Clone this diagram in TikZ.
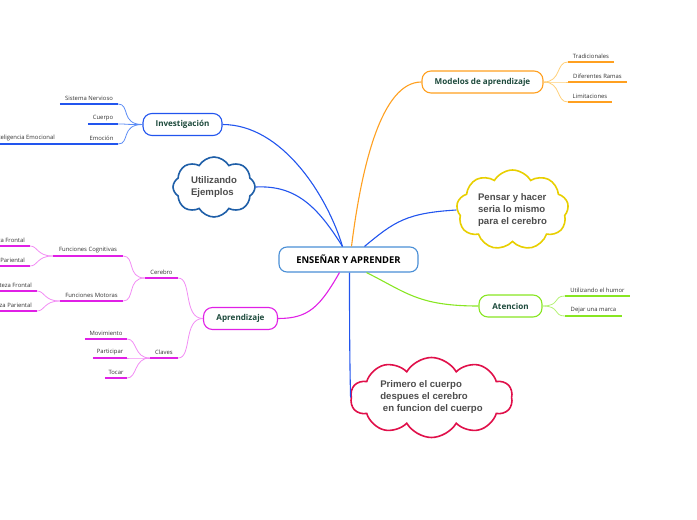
\documentclass[tikz,border=0pt]{standalone}
\usepackage{fontspec}
\setmainfont{Open Sans}
\newfontfamily\cloudfont{Liberation Sans}
\usetikzlibrary{shapes.symbols}
\definecolor{cblue}{HTML}{2255EE}
\definecolor{cblueL}{HTML}{5C8CF5}
\definecolor{cmag}{HTML}{E020E6}
\definecolor{cmagL}{HTML}{F28CF4}
\definecolor{corg}{HTML}{FFA020}
\definecolor{corgL}{HTML}{FFCF78}
\definecolor{cgrn}{HTML}{88E622}
\definecolor{cgrnL}{HTML}{B4F274}
\definecolor{ccentral}{HTML}{4A8FD6}
\definecolor{ctxt}{HTML}{1D4A3C}
\definecolor{clbl}{HTML}{333333}
\definecolor{ccloudtxt}{HTML}{4D4D4D}
\definecolor{cloudA}{HTML}{1F5FA8}
\definecolor{cloudB}{HTML}{E8CF00}
\definecolor{cloudC}{HTML}{E0104A}
\tikzset{
  central/.style={draw=ccentral,line width=1.1pt,fill=white,rounded corners=8pt,
    minimum width=139pt,minimum height=25pt,inner sep=0pt,text=black,
    font=\bfseries\fontsize{9.4}{11}\selectfont},
  mainnode/.style={draw=#1,line width=1.1pt,fill=white,rounded corners=9pt,
    minimum height=22pt,inner sep=0pt,text=ctxt,
    font=\bfseries\fontsize{8.1}{9}\selectfont},
  lbl/.style={inner xsep=0pt,inner ysep=3pt,text=clbl,anchor=south,
    font=\fontsize{5.9}{7}\selectfont},
  lblcut/.style={inner xsep=5pt,inner ysep=3pt,text=clbl,
    font=\fontsize{5.9}{7}\selectfont},
  ul/.style={draw=#1,line width=1.5pt},
  sub/.style={draw=#1,line width=0.8pt},
  branch/.style={draw=#1,line width=1.1pt},
  cloudbox/.style={cloud,draw=#1,line width=1.6pt,fill=white,cloud ignores aspect,
    inner sep=0pt,text=ccloudtxt,align=left,
    font=\cloudfont\bfseries\fontsize{9.6}{12}\selectfont},
}
\begin{document}
\begin{tikzpicture}[x=1pt,y=1pt]
\useasboundingbox (0,0) rectangle (697,-520);

% central
\node[central] (c) at (348.5,-259.5) {ENSEÑAR Y APRENDER};

% main nodes
\node[mainnode=cblue,minimum width=79pt] (inv) at (182.5,-124.5) {Investigación};
\node[mainnode=cmag,minimum width=74pt] (apr) at (240.5,-318.5) {Aprendizaje};
\node[mainnode=corg,minimum width=121pt] (mod) at (482.5,-82) {Modelos de aprendizaje};
\node[mainnode=cgrn,minimum width=63pt] (att) at (510.5,-306) {Atencion};

% clouds
\node[cloudbox=cloudA,cloud puffs=8,cloud puff arc=120,minimum width=82pt,minimum height=60pt] (ue) at (214,-187) {Utilizando\\Ejemplos};
\node[cloudbox=cloudB,cloud puffs=9,cloud puff arc=120,minimum width=112pt,minimum height=80pt] (ph) at (512.5,-210) {Pensar y hacer\\seria lo mismo\\para el cerebro};
\node[cloudbox=cloudC,cloud puffs=10,cloud puff arc=120,minimum width=162pt,minimum height=80pt] (pc) at (431.5,-397.5) {Primero el cuerpo\\despues el cerebro\\\ en funcion del cuerpo};

% central branches
\draw[branch=cblue] ([xshift=-6pt]c.north) .. controls +(-15,50) and +(60,0) .. (inv.east);
\draw[branch=cblue] ([xshift=-6pt]c.north) .. controls +(-25,40) and +(40,2) .. (ue.east);
\draw[branch=corg] ([xshift=3pt]c.north) .. controls +(10,80) and +(-40,0) .. (mod.west);
\draw[branch=cblue] ([xshift=16pt]c.north) .. controls +(30,25) and +(-50,-3) .. (ph.west);
\draw[branch=cgrn] ([xshift=18pt]c.south) .. controls +(40,-20) and +(-60,0) .. (att.west);
\draw[branch=cmag] ([xshift=-9pt]c.south) .. controls +(-20,-35) and +(30,0) .. (apr.east);
\draw[branch=cblue] ([xshift=1pt]c.south) .. controls +(0,-40) and +(-1,40) .. (pc.west);

% Investigacion subs
\node[lbl,minimum width=58pt] (sn) at (89,-104) {Sistema Nervioso};
\node[lbl,minimum width=30pt] (cu) at (103,-124) {Cuerpo};
\node[lbl,minimum width=33pt] (em) at (101.5,-144) {Emoción};
\node[lblcut,anchor=south east] (ie) at (60,-144) {Inteligencia Emocional};
\foreach \n in {sn,cu,em} {\draw[ul=cblue] (\n.south west) -- (\n.south east);}
\draw[ul=cblue] (ie.south west) -- (ie.south east);
\draw[ul=cblue] (em.south west) -- (ie.south east);
\foreach \n in {sn,cu,em} {\draw[sub=cblueL] (inv.west) .. controls +(-22,0) and +(12,0) .. (\n.south east);}

% Aprendizaje subs
\node[lbl,minimum width=33pt] (ce) at (161.5,-278) {Cerebro};
\node[lbl,minimum width=28pt] (cl) at (164,-358) {Claves};
\node[lbl,minimum width=70pt] (fc) at (88,-256) {Funciones Cognitivas};
\node[lbl,minimum width=63pt] (fm) at (91.5,-301) {Funciones Motoras};
\node[lblcut,anchor=south east] (fc1) at (30,-246) {Corteza Frontal};
\node[lblcut,anchor=south east] (fc2) at (30,-266) {Corteza Pariental};
\node[lblcut,anchor=south east] (fm1) at (37,-291) {Corteza Frontal};
\node[lblcut,anchor=south east] (fm2) at (37,-311) {Corteza Pariental};
\node[lbl,minimum width=42pt] (mv) at (106,-339) {Movimiento};
\node[lbl,minimum width=34pt] (pa) at (110,-358) {Participar};
\node[lbl,minimum width=22pt] (to) at (116,-378) {Tocar};
\foreach \n in {ce,cl,fc,fm,fc1,fc2,fm1,fm2,mv,pa,to} {\draw[ul=cmag] (\n.south west) -- (\n.south east);}
\foreach \n in {ce,cl} {\draw[sub=cmagL] (apr.west) .. controls +(-20,0) and +(14,0) .. (\n.south east);}
\foreach \n in {fc,fm} {\draw[sub=cmagL] (ce.south west) .. controls +(-18,0) and +(12,0) .. (\n.south east);}
\foreach \n in {fc1,fc2} {\draw[sub=cmagL] (fc.south west) .. controls +(-16,0) and +(8,0) .. (\n.south east);}
\foreach \n in {fm1,fm2} {\draw[sub=cmagL] (fm.south west) .. controls +(-16,0) and +(8,0) .. (\n.south east);}
\foreach \n in {mv,pa,to} {\draw[sub=cmagL] (cl.south west) .. controls +(-16,0) and +(10,0) .. (\n.south east);}

% Modelos subs
\node[lbl,minimum width=46pt] (tr) at (591,-62) {Tradicionales};
\node[lbl,minimum width=59pt] (dr) at (597.5,-82) {Diferentes Ramas};
\node[lbl,minimum width=44pt] (li) at (590,-102) {Limitaciones};
\foreach \n in {tr,dr,li} {\draw[ul=corg] (\n.south west) -- (\n.south east);
  \draw[sub=corgL] (mod.east) .. controls +(18,0) and +(-12,0) .. (\n.south west);}

% Atencion subs
\node[lbl,minimum width=65pt] (uh) at (597.5,-296) {Utilizando el humor};
\node[lbl,minimum width=57pt] (dm) at (593.5,-316) {Dejar una marca};
\foreach \n in {uh,dm} {\draw[ul=cgrn] (\n.south west) -- (\n.south east);
  \draw[sub=cgrnL] (att.east) .. controls +(18,0) and +(-12,0) .. (\n.south west);}
\end{tikzpicture}
\end{document}
